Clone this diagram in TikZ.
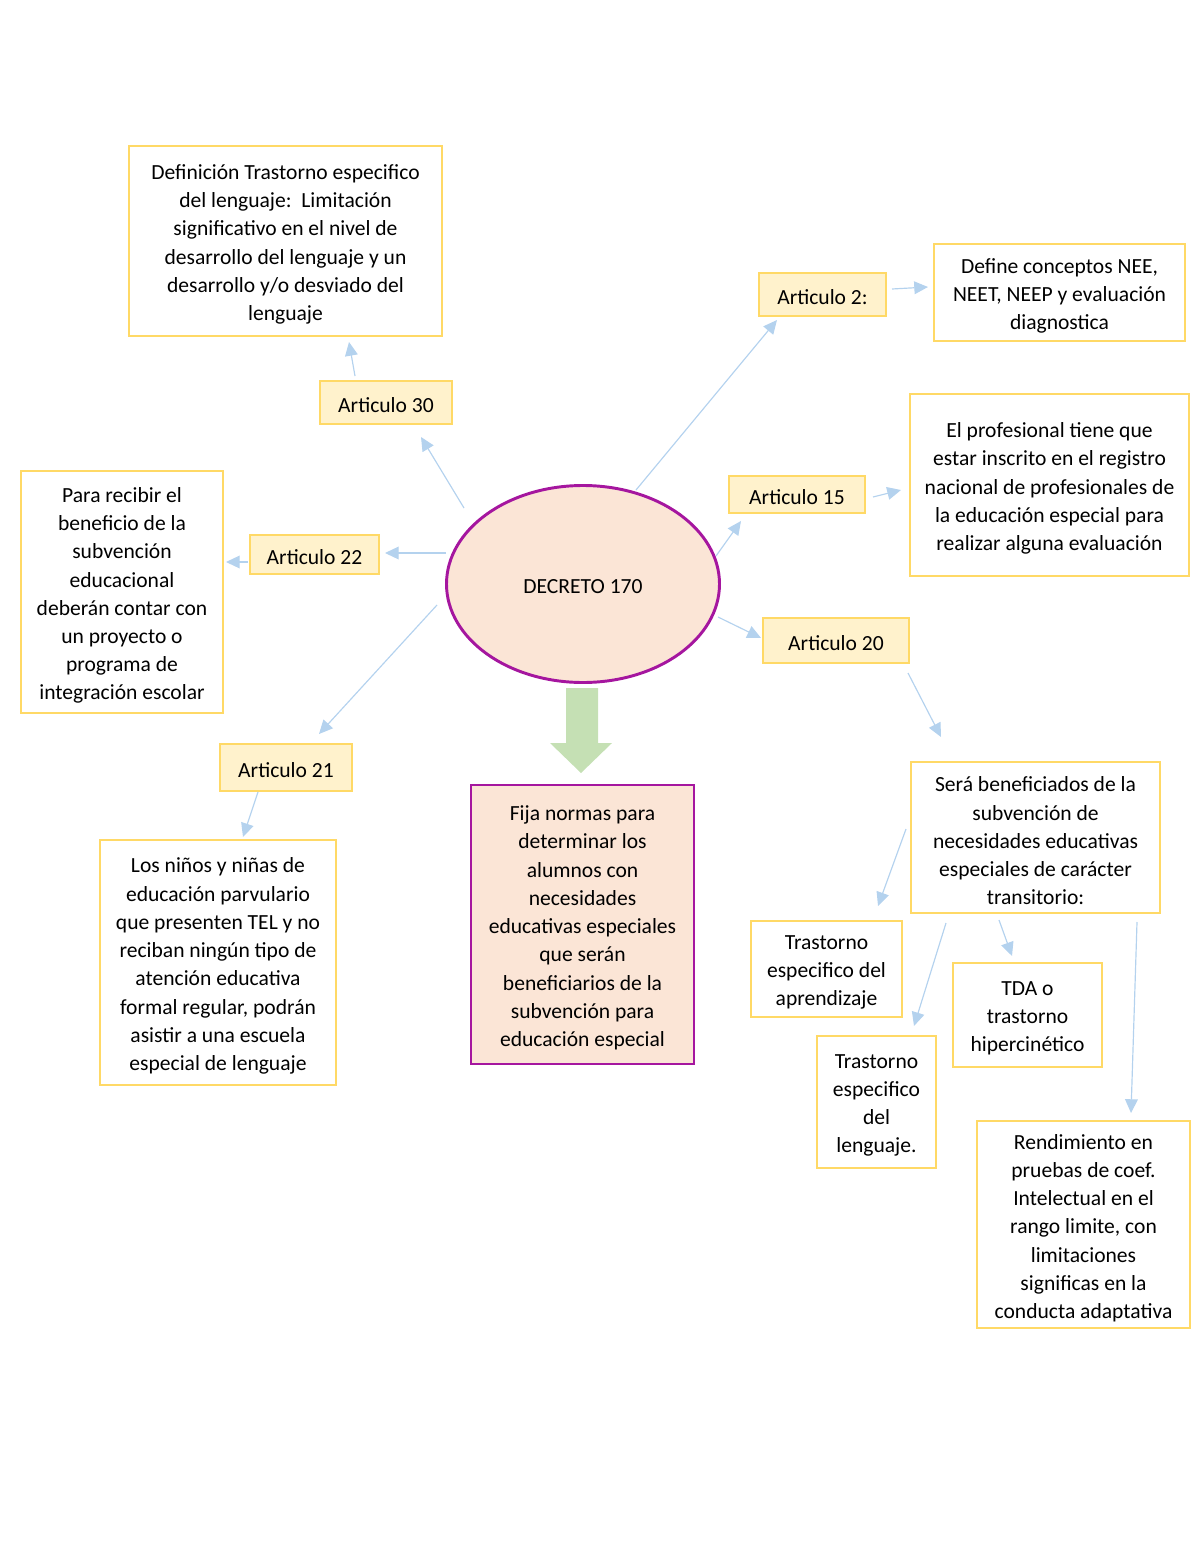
\documentclass[tikz,border=0pt]{standalone}
\usepackage{fontspec}
\setmainfont{Carlito}
\usetikzlibrary{arrows.meta}
\definecolor{ygold}{HTML}{FFD966}
\definecolor{yfill}{HTML}{FFF2CC}
\definecolor{pfill}{HTML}{FBE5D6}
\definecolor{pline}{HTML}{A5169F}
\definecolor{aline}{HTML}{B4D2EE}
\definecolor{gfill}{HTML}{C5E0B4}
\tikzset{
  txt/.style={font=\fontsize{11}{14.4}\selectfont, align=center, inner sep=0pt},
  ybox/.style={draw=ygold, line width=1.5pt, fill=white},
  artbox/.style={draw=ygold, line width=1.5pt, fill=yfill},
  pbox/.style={draw=pline, line width=1.5pt, fill=pfill},
  arr/.style={draw=aline, line width=0.6pt, -{Triangle[length=7pt,width=6.5pt,fill=aline]}},
}
% name, style, x1, y1, x2, y2, text shift ; text follows
\newcommand\boxat[7]{%
  \path[#2] (#3,#4) rectangle (#5,#6);
  \node[txt] (#1) at ({(#3+#5)/2},{(#4+#6)/2+#7})}
\begin{document}
\begin{tikzpicture}[x=0.51pt,y=-0.51pt]
\useasboundingbox (0,0) rectangle (1200,1553);
% boxes
\boxat{def}{ybox}{129}{146}{442}{336}{3.5} {Definición Trastorno especifico\\del lenguaje:\ \ Limitación\\significativo en el nivel de\\desarrollo del lenguaje y un\\desarrollo y/o desviado del\\lenguaje};
\boxat{a30}{artbox}{320}{381}{452}{424}{2.5} {Articulo 30};
\boxat{a2}{artbox}{759}{273}{886}{316}{2.5} {Articulo 2:};
\boxat{nee}{ybox}{934}{244}{1185}{341}{3.5} {Define conceptos NEE,\\NEET, NEEP y evaluación\\diagnostica};
\boxat{a15}{artbox}{729}{476}{865}{513}{2.5} {Articulo 15};
\boxat{prof}{ybox}{910}{394}{1189}{576}{3.5} {El profesional tiene que\\estar inscrito en el registro\\nacional de profesionales de\\la educación especial para\\realizar alguna evaluación};
\boxat{a22}{artbox}{250}{535}{379}{574}{2.5} {Articulo 22};
\boxat{para}{ybox}{21}{471}{223}{713}{3.5} {Para recibir el\\beneficio de la\\subvención\\educacional\\deberán contar con\\un proyecto o\\programa de\\integración escolar};
\boxat{a20}{artbox}{763}{618}{909}{663}{2.5} {Articulo 20};
\boxat{a21}{artbox}{220}{744}{352}{791}{2.5} {Articulo 21};
\boxat{fija}{pbox}{471}{785}{694}{1064}{3.5} {Fija normas para\\determinar los\\alumnos con\\necesidades\\educativas especiales\\que serán\\beneficiarios de la\\subvención para\\educación especial};
\boxat{ninos}{ybox}{100}{840}{336}{1085}{3.5} {Los niños y niñas de\\educación parvulario\\que presenten TEL y no\\reciban ningún tipo de\\atención educativa\\formal regular, podrán\\asistir a una escuela\\especial de lenguaje};
\boxat{sera}{ybox}{911}{762}{1160}{913}{3.5} {Será beneficiados de la\\subvención de\\necesidades educativas\\especiales de carácter\\transitorio:};
\boxat{tea}{ybox}{751}{921}{902}{1017}{3.5} {Trastorno\\especifico del\\aprendizaje};
\boxat{tda}{ybox}{953}{963}{1102}{1067}{3.5} {TDA o\\trastorno\\hipercinético};
\boxat{tel}{ybox}{817}{1036}{936}{1168}{3.5} {Trastorno\\especifico\\del\\lenguaje.};
\boxat{rend}{ybox}{977}{1121}{1190}{1328}{3.5} {Rendimiento en\\pruebas de coef.\\Intelectual en el\\rango limite, con\\limitaciones\\significas en la\\conducta adaptativa};
% central ellipse
\path[pbox] (583,584) ellipse [x radius=136.5, y radius=98.5];
\node[txt] (dec) at (583,586.5) {DECRETO 170};
% green block arrow
\fill[gfill] (566,688) -- (598,688) -- (598,743) -- (612,743) -- (581,773) -- (550,743) -- (566,743) -- cycle;
% connector end points
\coordinate (s30a) at (355,376); \coordinate (t30a) at (349,342);
\coordinate (s30) at (464,508);  \coordinate (t30) at (421,437);
\coordinate (s2) at (636,490);   \coordinate (t2) at (777,320);
\coordinate (s2a) at (892,289);  \coordinate (t2a) at (928,287);
\coordinate (s15) at (716,556);  \coordinate (t15) at (741,521);
\coordinate (s15a) at (873,497); \coordinate (t15a) at (901,490);
\coordinate (s22) at (446,553);  \coordinate (t22) at (385,553);
\coordinate (s22a) at (248,562); \coordinate (t22a) at (226,562);
\coordinate (s21) at (437,605);  \coordinate (t21) at (319,734);
\coordinate (s21a) at (258,792); \coordinate (t21a) at (243,837);
\coordinate (s20) at (718,617);  \coordinate (t20) at (761,638);
\coordinate (s20a) at (908,673); \coordinate (t20a) at (941,737);
\coordinate (sa) at (906,829);   \coordinate (ta) at (878,906);
\coordinate (sb) at (946,923);   \coordinate (tb) at (914,1026);
\coordinate (sc) at (999,920);   \coordinate (tc) at (1012,956);
\coordinate (sd) at (1137,922);  \coordinate (td) at (1131,1113);
% connectors
\draw[arr] (s30a) -- (t30a);
\draw[arr] (s30) -- (t30);
\draw[arr] (s2) -- (t2);
\draw[arr] (s2a) -- (t2a);
\draw[arr] (s15) -- (t15);
\draw[arr] (s15a) -- (t15a);
\draw[arr] (s22) -- (t22);
\draw[arr] (s22a) -- (t22a);
\draw[arr] (s21) -- (t21);
\draw[arr] (s21a) -- (t21a);
\draw[arr] (s20) -- (t20);
\draw[arr] (s20a) -- (t20a);
\draw[arr] (sa) -- (ta);
\draw[arr] (sb) -- (tb);
\draw[arr] (sc) -- (tc);
\draw[arr] (sd) -- (td);
\end{tikzpicture}
\end{document}
